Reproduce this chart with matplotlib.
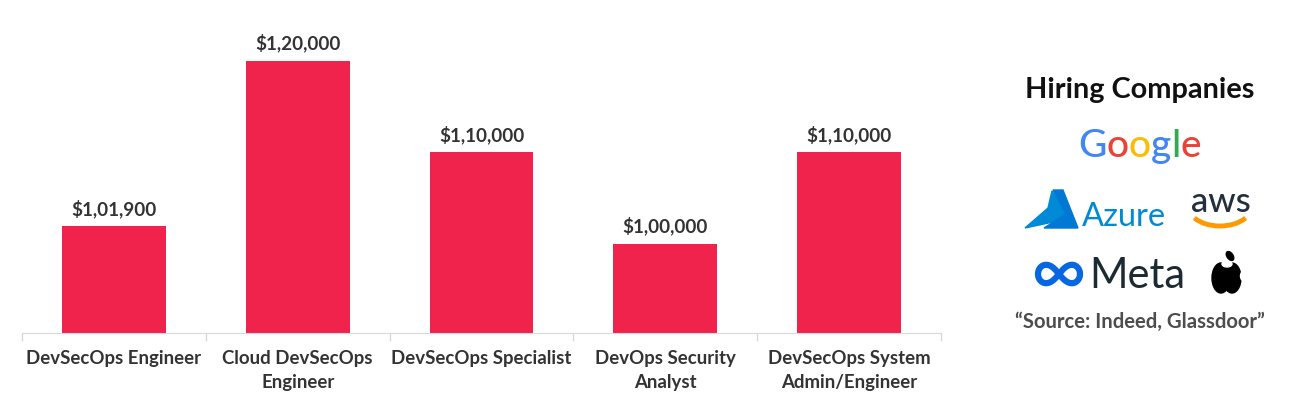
import numpy as np
import matplotlib.pyplot as plt
from matplotlib.patches import Polygon, Ellipse, Arc

plt.rcParams['font.family'] = ['Lato', 'DejaVu Sans']

roles = ['DevSecOps Engineer', 'Cloud DevSecOps\nEngineer', 'DevSecOps Specialist',
         'DevOps Security\nAnalyst', 'DevSecOps System\nAdmin/Engineer']
salaries = [101900, 120000, 110000, 100000, 110000]
salary_labels = ['$1,01,900', '$1,20,000', '$1,10,000', '$1,00,000', '$1,10,000']
companies_title = 'Hiring Companies'
source_note = '\u201cSource: Indeed, Glassdoor\u201d'

bar_color = '#F0234D'
text_color = '#333333'

W, H = 1304, 408
fig = plt.figure(figsize=(W / 100, H / 100), dpi=100)
ax = fig.add_axes([22 / W, 75 / H, 919 / W, 313 / H])

xs = range(len(roles))
ax.bar(xs, salaries, width=0.565, color=bar_color, zorder=2)
for x, v, lab in zip(xs, salaries, salary_labels):
    ax.annotate(lab, (x, v), xytext=(0, 6), textcoords='offset points',
                ha='center', va='bottom', fontsize=13.6, fontweight='bold', color=text_color)

ax.set_xlim(-0.5, len(roles) - 0.5)
ax.set_ylim(90200, 124500)
ax.set_xticks(list(xs))
ax.set_xticklabels(roles, fontsize=13.4, fontweight='bold', color=text_color, linespacing=1.55)
ax.set_xticks([i - 0.5 for i in range(len(roles) + 1)], minor=True)
ax.tick_params(axis='x', which='major', length=0, pad=12)
ax.tick_params(axis='x', which='minor', length=6, color='#d9d9d9', width=1)
ax.set_yticks([])
for s in ['top', 'right', 'left']:
    ax.spines[s].set_visible(False)
ax.spines['bottom'].set_color('#d9d9d9')

# right side panel, pixel coordinates
rp = fig.add_axes([0, 0, 1, 1])
rp.set_xlim(0, W)
rp.set_ylim(H, 0)
rp.axis('off')

rp.text(1140, 90, companies_title, ha='center', va='center', fontsize=20.8,
        fontweight='bold', color='#111111')

# Google
g_colors = ['#4285F4', '#EA4335', '#FBBC05', '#4285F4', '#34A853', '#EA4335']
prev = rp.text(1078, 157, 'G', ha='left', va='baseline', fontsize=28,
               fontweight='medium', color=g_colors[0])
for ch, c in zip('oogle', g_colors[1:]):
    prev = rp.annotate(ch, xy=(1, 0), xycoords=prev, ha='left', va='bottom',
                       fontsize=28, fontweight='medium', color=c)

# Azure
rp.add_patch(Polygon([(1025, 228), (1048, 208), (1052, 191), (1066, 214), (1058, 221)],
                     closed=True, color='#0089D6'))
rp.add_patch(Polygon([(1053, 190), (1063, 190), (1078, 228), (1044, 228), (1066, 214)],
                     closed=True, color='#0078D4'))
rp.text(1082, 226, 'Azure', ha='left', va='baseline', fontsize=23.5, color='#0089D6')

# aws
rp.text(1221, 212, 'aws', ha='center', va='baseline', fontsize=25, fontweight='medium',
        color='#232F3E')
rp.add_patch(Arc((1220, 206), 64, 40, theta1=25, theta2=155, color='#FF9900', lw=3.5))

# Meta
t = np.linspace(0, 2 * np.pi, 200)
lx = 1059 + 21 * np.cos(t) / (1 + np.sin(t) ** 2)
ly = 274 + 26 * np.sin(t) * np.cos(t) / (1 + np.sin(t) ** 2)
rp.plot(lx, ly, color='#0668E1', lw=4.5, solid_capstyle='round')
rp.text(1089, 288, 'Meta', ha='left', va='baseline', fontsize=30, color='#1C2B33')

# Apple
rp.add_patch(Ellipse((1221, 278), 18, 30, color='black'))
rp.add_patch(Ellipse((1232, 278), 18, 30, color='black'))
rp.add_patch(Ellipse((1227, 264), 10, 6, color='white'))
rp.add_patch(Ellipse((1244, 276), 7, 10, color='white'))
rp.add_patch(Ellipse((1230, 256), 6, 10, angle=-35, color='black'))

rp.text(1140, 322, source_note, ha='center', va='center', fontsize=14.6,
        fontweight='bold', color='#4d4d4d')

fig.savefig('out.png', dpi=100)
